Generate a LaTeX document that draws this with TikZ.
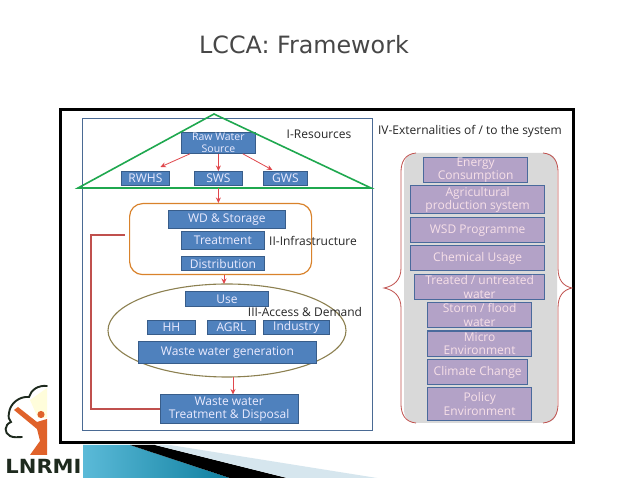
\documentclass[tikz,border=0pt]{standalone}
\usepackage{fontspec}
\setmainfont{Open Sans}
\newfontfamily\titlefont{DejaVu Sans}
\newfontfamily\logofont[FakeStretch=1.08]{DejaVu Sans}
\usetikzlibrary{arrows.meta,calc}
\definecolor{boxblue}{HTML}{4F81BD}
\definecolor{boxedge}{HTML}{385D8A}
\definecolor{purplefill}{HTML}{B3A2C7}
\definecolor{purpleedge}{HTML}{4A6A9C}
\definecolor{redline}{HTML}{C0504D}
\definecolor{arrowred}{HTML}{E0474C}
\definecolor{greenline}{HTML}{1FA84F}
\definecolor{orangeline}{HTML}{D9822B}
\definecolor{olivering}{HTML}{8C8050}
\definecolor{frameblue}{HTML}{4A6A94}
\definecolor{graybg}{HTML}{D9D9D9}
\definecolor{stripleft}{HTML}{5BBAD8}
\definecolor{stripright}{HTML}{0F7F9F}
\definecolor{stripclear}{HTML}{D6E6EE}
\definecolor{logoorange}{HTML}{E0622A}
\definecolor{logodark}{HTML}{1E2A1E}
\tikzset{
  x=1pt,y=-1pt,
  bluebox/.style={draw=boxedge,line width=0.8pt,fill=boxblue,text=white!92!blue,font=\fontsize{12}{13.5}\selectfont,align=center,inner sep=0pt,anchor=north west},
  smallbluebox/.style={bluebox,font=\fontsize{10.5}{12.5}\selectfont},
  purplebox/.style={draw=purpleedge,line width=1.3pt,fill=purplefill,text=white!88!purple,font=\fontsize{12}{13.4}\selectfont,align=center,inner sep=0pt,anchor=north west},
  lab/.style={text=black!85,font=\fontsize{12}{13.5}\selectfont,inner sep=0pt},
  flow/.style={draw=arrowred,line width=0.8pt,-{Stealth[length=5.5pt,width=5pt]}},
}
\newcommand{\bx}[6]{\node[#1,minimum width=#4pt-#2pt,minimum height=#5pt-#3pt] (#6) at (#2,#3)}
\begin{document}
\begin{tikzpicture}
\useasboundingbox (0,0) rectangle (638,478);
\fill[white] (0,0) rectangle (638,478);
% slide decoration
\shade[left color=stripleft,right color=stripright] (83,445) -- (130,445) -- (230,478) -- (83,478) -- cycle;
\fill[black] (130,445) -- (155,445) -- (287,478) -- (230,478) -- cycle;
\fill[stripclear] (170,445) -- (377,478) -- (287,478) -- (155,445) -- cycle;
% logo
\fill[yellow!14!white] (47,388) -- (30,400) -- (38,418) -- (47,418) -- cycle;
\draw[logodark,line width=1.9pt,line cap=round] (47,386) .. controls (38,385) and (31,390) .. (29,397) .. controls (20,396) and (10,403) .. (9,413) .. controls (8,417) and (9,420) .. (11,422) .. controls (4,425) and (4,433) .. (10,436) .. controls (14,438) and (18,437) .. (22,437);
\fill[logoorange] (41,414.5) circle (3.6);
\fill[logoorange] (14,410) -- (18,407) -- (37,422) -- (47,419) -- (47,455) -- (30,455) -- (40,441) -- (37,429) -- cycle;
\node[text=logodark,font=\logofont\bfseries\fontsize{19.5}{22}\selectfont,inner sep=0pt] (logo) at (43.5,466.5) {LNRMI};
% title
\node[text=black!72,font=\titlefont\fontsize{23.8}{28}\selectfont,inner sep=0pt] (title) at (304,45) {LCCA: Framework};
% frame
\draw[black,line width=3pt,fill=white] (60,110) rectangle (573,443);
\draw[frameblue,line width=0.9pt] (82,118) rectangle (372,430);
% gray panel with braces
\fill[graybg,rounded corners=12pt] (404,153) rectangle (557,423);
\coordinate (bl1) at (416,153);
\coordinate (bl2) at (416,423);
\coordinate (bt1) at (384,288);
\coordinate (br1) at (543,153);
\coordinate (br2) at (543,423);
\coordinate (bt2) at (572,288);
\draw[redline,line width=0.8pt] (bl1) .. controls (405,154) and (401,162) .. (401,172) -- (401,268) .. controls (401,280) and (394,286) .. (bt1) .. controls (394,290) and (401,296) .. (401,308) -- (401,404) .. controls (401,414) and (405,422) .. (bl2);
\draw[redline,line width=0.8pt] (br1) .. controls (554,154) and (558,162) .. (558,172) -- (558,268) .. controls (558,280) and (563,286) .. (bt2) .. controls (563,290) and (558,296) .. (558,308) -- (558,404) .. controls (558,414) and (554,422) .. (br2);
% containers
\node[draw=orangeline,line width=1.2pt,rounded corners=13pt,minimum width=182pt,minimum height=71pt,inner sep=0pt,anchor=north west] (infra) at (129,203) {};
\draw[olivering,line width=1.1pt] (227,330.5) ellipse [x radius=119,y radius=46.5];
\coordinate (ellN) at (224,284);
\coordinate (ellS) at (233,377);
% left boxes
\bx{smallbluebox}{181}{132}{255}{153}{raw} {Raw Water\\Source};
\coordinate (apex) at (214,114);
\coordinate (baseL) at (78,188);
\coordinate (baseR) at (371,188);
\draw[greenline,line width=1.6pt] (apex) -- (baseL) -- (baseR) -- cycle;
\bx{bluebox}{121}{171}{169}{185}{rwhs} {RWHS};
\bx{bluebox}{194}{171}{242}{185}{sws} {SWS};
\bx{bluebox}{263}{171}{307}{185}{gws} {GWS};
\bx{bluebox}{168}{210}{285}{228}{wd} {WD \& Storage};
\bx{bluebox}{181}{231}{264}{249}{treat} {Treatment};
\bx{bluebox}{181}{256}{264}{270.5}{dist} {Distribution};
\bx{bluebox}{185}{291}{268}{306}{use} {Use};
\bx{bluebox}{147}{320}{195}{334.5}{hh} {HH};
\bx{bluebox}{207}{320}{255}{334.5}{agrl} {AGRL};
\bx{bluebox}{263}{320}{329}{334.5}{ind} {Industry};
\bx{bluebox}{138}{341}{316}{363}{wwg} {Waste water generation};
\bx{bluebox}{159.5}{394.5}{298}{423}{wwt} {Waste water\\Treatment \& Disposal};
% labels
\node[lab] (l1) at (319,134) {I-Resources};
\node[lab] (l2) at (313,241) {II-Infrastructure};
\node[lab] (l3) at (305,312) {III-Access \& Demand};
\node[lab] (l4) at (470,131) {IV-Externalities of / to the system};
% purple boxes
\bx{purplebox}{423}{157}{527}{182}{p1} {Energy\\Consumption};
\bx{purplebox}{410}{185}{544}{213}{p2} {Agricultural\\production system};
\bx{purplebox}{410}{217}{544}{242}{p3} {WSD Programme};
\bx{purplebox}{410}{245}{544}{270}{p4} {Chemical Usage};
\bx{purplebox}{414}{274}{544}{299}{p5} {Treated / untreated\\water};
\bx{purplebox}{427}{302}{531}{327}{p6} {Storm / flood\\water};
\bx{purplebox}{427}{330.5}{531}{356}{p7} {Micro\\Environment};
\bx{purplebox}{427}{359}{527}{384}{p8} {Climate Change};
\bx{purplebox}{427}{387}{531}{420}{p9} {Policy\\Environment};
% connectors
\draw[flow] ($(raw.south west)+(9,0)$) -- ($(rwhs.north)+(15,-4)$);
\draw[flow] ($(raw.south)+(0,0)$) -- ($(sws.north)+(0,0)$);
\draw[flow] ($(raw.south east)+(-13,0)$) -- ($(gws.north)+(-13,-1)$);
\draw[flow] (sws.south |- baseL) -- (sws.south |- infra.north);
\draw[flow] (ellN |- infra.south) -- (ellN);
\draw[flow] (ellS) -- (ellS |- wwt.north);
\coordinate (fb) at (125,235);
\coordinate (fc) at (91,235);
\draw[redline,line width=1.8pt] (fb) -- (fc) -- (fc |- wwt.west) -- (wwt.west);
\end{tikzpicture}
\end{document}
